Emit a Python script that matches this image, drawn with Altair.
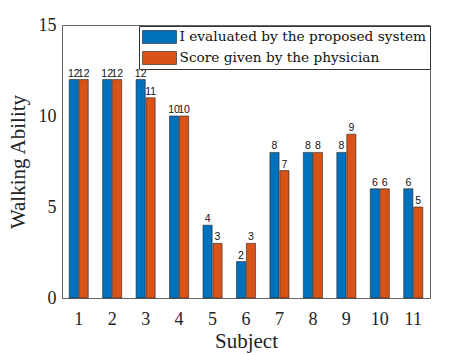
import altair as alt
import pandas as pd

subjects = [str(i) for i in range(1, 12)]
system_scores = [12, 12, 12, 10, 4, 2, 8, 8, 8, 6, 6]
physician_scores = [12, 12, 11, 10, 3, 3, 7, 8, 9, 6, 5]
series_names = ["I evaluated by the proposed system", "Score given by the physician"]
colors = ["#0072BD", "#D95319"]

rows = []
for s, a, b in zip(subjects, system_scores, physician_scores):
    rows.append({"Subject": s, "Series": series_names[0], "Value": a})
    rows.append({"Subject": s, "Series": series_names[1], "Value": b})
df = pd.DataFrame(rows)

serif = "Liberation Serif"
legend_font = "DejaVu Serif"

x_enc = alt.X("Subject:N", sort=subjects,
              scale=alt.Scale(paddingInner=0.43, paddingOuter=0.215),
              axis=alt.Axis(title="Subject", labelAngle=0, ticks=False, labelPadding=12,
                            labelFont=serif, labelFontSize=18, labelColor="#222",
                            titleFont=serif, titleFontSize=21, titleFontWeight="normal",
                            titleColor="#222", titlePadding=2, domainColor="#666"))
xo_enc = alt.XOffset("Series:N", sort=series_names, scale=alt.Scale(paddingInner=0.08))

base = alt.Chart(df)

bars = base.mark_bar(stroke="#222", strokeWidth=0.6).encode(
    x=x_enc,
    xOffset=xo_enc,
    y=alt.Y("Value:Q", scale=alt.Scale(domain=[0, 15], nice=False),
            axis=alt.Axis(title="Walking Ability", values=[0, 5, 10, 15], grid=False,
                          ticks=False, labelPadding=6,
                          labelFont=serif, labelFontSize=18, labelColor="#222",
                          titleFont=serif, titleFontSize=21, titleFontWeight="normal",
                          titleColor="#222", titlePadding=10, domainColor="#666")),
    color=alt.Color("Series:N", sort=series_names,
                    scale=alt.Scale(domain=series_names, range=colors),
                    legend=alt.Legend(title=None, orient="none", legendX=77, legendY=1,
                                      strokeColor="#333", fillColor="white",
                                      padding=3, rowPadding=5,
                                      symbolType="M-2.267,-0.867H2.267V0.867H-2.267Z",
                                      symbolSize=225,
                                      symbolStrokeColor="#222", symbolStrokeWidth=0.6,
                                      symbolOffset=9.5,
                                      labelFont=legend_font, labelFontSize=13.7,
                                      labelColor="#111", labelOffset=12, labelLimit=400)),
)

labels = base.mark_text(baseline="bottom", dy=-1, font="Liberation Sans",
                        fontSize=10.5, color="#111").encode(
    x=alt.X("Subject:N", sort=subjects),
    xOffset=xo_enc,
    y=alt.Y("Value:Q"),
    text=alt.Text("Value:Q"),
)

chart = (bars + labels).properties(
    width=368, height=273,
    padding={"left": 62, "top": 25, "right": 44, "bottom": 57},
    autosize="none",
).configure(background="white", font=legend_font).configure_view(
    stroke="#666", strokeWidth=1
).configure_legend(labelFont=legend_font, labelFontSize=13.7)

chart.save("out.html", embed_options={"renderer": "svg", "actions": False})
